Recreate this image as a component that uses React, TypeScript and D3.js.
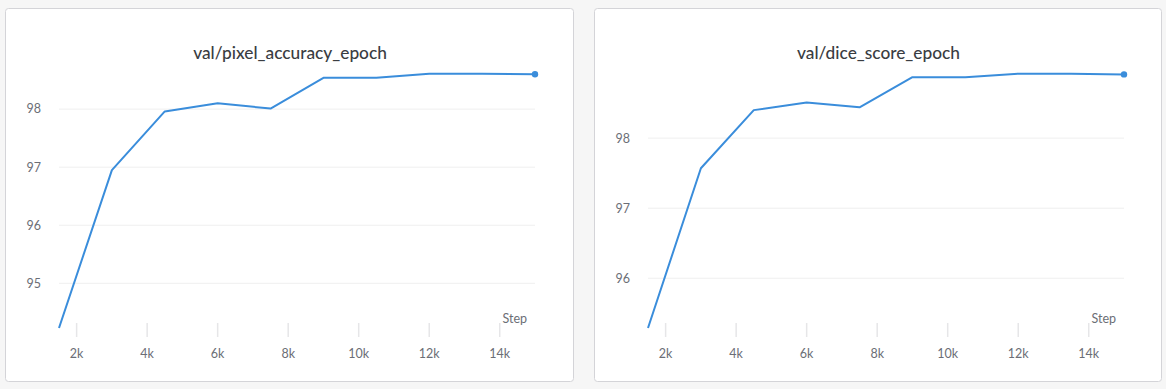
import React from "react";
import * as d3 from "d3";

// training steps logged at each validation epoch
const steps = [1500, 3000, 4500, 6000, 7500, 9000, 10500, 12000, 13500, 15000];

// val/pixel_accuracy_epoch values
const pixelAccuracy = [94.23, 96.95, 97.96, 98.1, 98.01, 98.54, 98.54, 98.61, 98.61, 98.6];

// val/dice_score_epoch values
const diceScore = [95.29, 97.57, 98.4, 98.51, 98.44, 98.87, 98.87, 98.92, 98.92, 98.91];

const xTicks = [2000, 4000, 6000, 8000, 10000, 12000, 14000];

const WIDTH = 1166;
const HEIGHT = 389;
const LINE_COLOR = "#3a8ddb";
const FONT = "Lato, 'Noto Sans', sans-serif";

type PanelProps = {
  x: number;
  width: number;
  title: string;
  values: number[];
};

const Panel = ({ x, width, title, values }: PanelProps) => {
  const top = 8;
  const height = 373;
  const plotLeft = x + 54;
  const plotRight = x + 530;
  const plotTop = 73.7;
  const plotBottom = 328;

  const xScale = d3.scaleLinear().domain(d3.extent(steps) as [number, number]).range([plotLeft, plotRight]);
  const yScale = d3.scaleLinear().domain(d3.extent(values) as [number, number]).range([plotBottom, plotTop]);

  const [yMin, yMax] = yScale.domain();
  const yTicks = d3.range(Math.ceil(yMin), Math.floor(yMax) + 1);

  const line = d3
    .line<number>()
    .x((_, i) => xScale(steps[i]))
    .y((d) => yScale(d));

  const last = values.length - 1;

  return (
    <g>
      <rect x={x + 0.5} y={top + 0.5} width={width} height={height} rx={3} fill="#fff" stroke="#d4d4d8" />
      <text
        x={x + width / 2 + 1}
        y={59}
        textAnchor="middle"
        fontFamily={FONT}
        fontSize={17.3}
        fontWeight={500}
        fill="#3a3d42"
      >
        {title}
      </text>

      {/* horizontal grid + y labels */}
      {yTicks.map((t) => (
        <g key={t}>
          <line x1={plotLeft} x2={plotRight} y1={yScale(t)} y2={yScale(t)} stroke="#efefef" strokeWidth={1} />
          <text
            x={plotLeft - 18}
            y={yScale(t)}
            dy="0.35em"
            textAnchor="end"
            fontFamily={FONT}
            fontSize={12.5}
            fill="#6b6e76"
          >
            {t}
          </text>
        </g>
      ))}

      {/* x ticks */}
      {xTicks.map((t) => (
        <g key={t}>
          <line x1={xScale(t)} x2={xScale(t)} y1={323} y2={337} stroke="#e6e6e8" strokeWidth={1.5} />
          <text
            x={xScale(t)}
            y={358}
            textAnchor="middle"
            fontFamily={FONT}
            fontSize={12.5}
            fill="#6b6e76"
          >
            {t / 1000}k
          </text>
        </g>
      ))}
      <text x={plotRight - 8} y={323} textAnchor="end" fontFamily={FONT} fontSize={12.5} fill="#6b6e76">
        Step
      </text>

      <path d={line(values) ?? ""} fill="none" stroke={LINE_COLOR} strokeWidth={2} strokeLinejoin="round" />
      <circle cx={xScale(steps[last])} cy={yScale(values[last])} r={3.2} fill={LINE_COLOR} />
    </g>
  );
};

export default function App() {
  return (
    <svg
      width={WIDTH}
      height={HEIGHT}
      style={{ position: "absolute", left: 0, top: 0, background: "#f6f6f6" }}
    >
      <Panel x={5} width={568} title="val/pixel_accuracy_epoch" values={pixelAccuracy} />
      <Panel x={594} width={567} title="val/dice_score_epoch" values={diceScore} />
    </svg>
  );
}
